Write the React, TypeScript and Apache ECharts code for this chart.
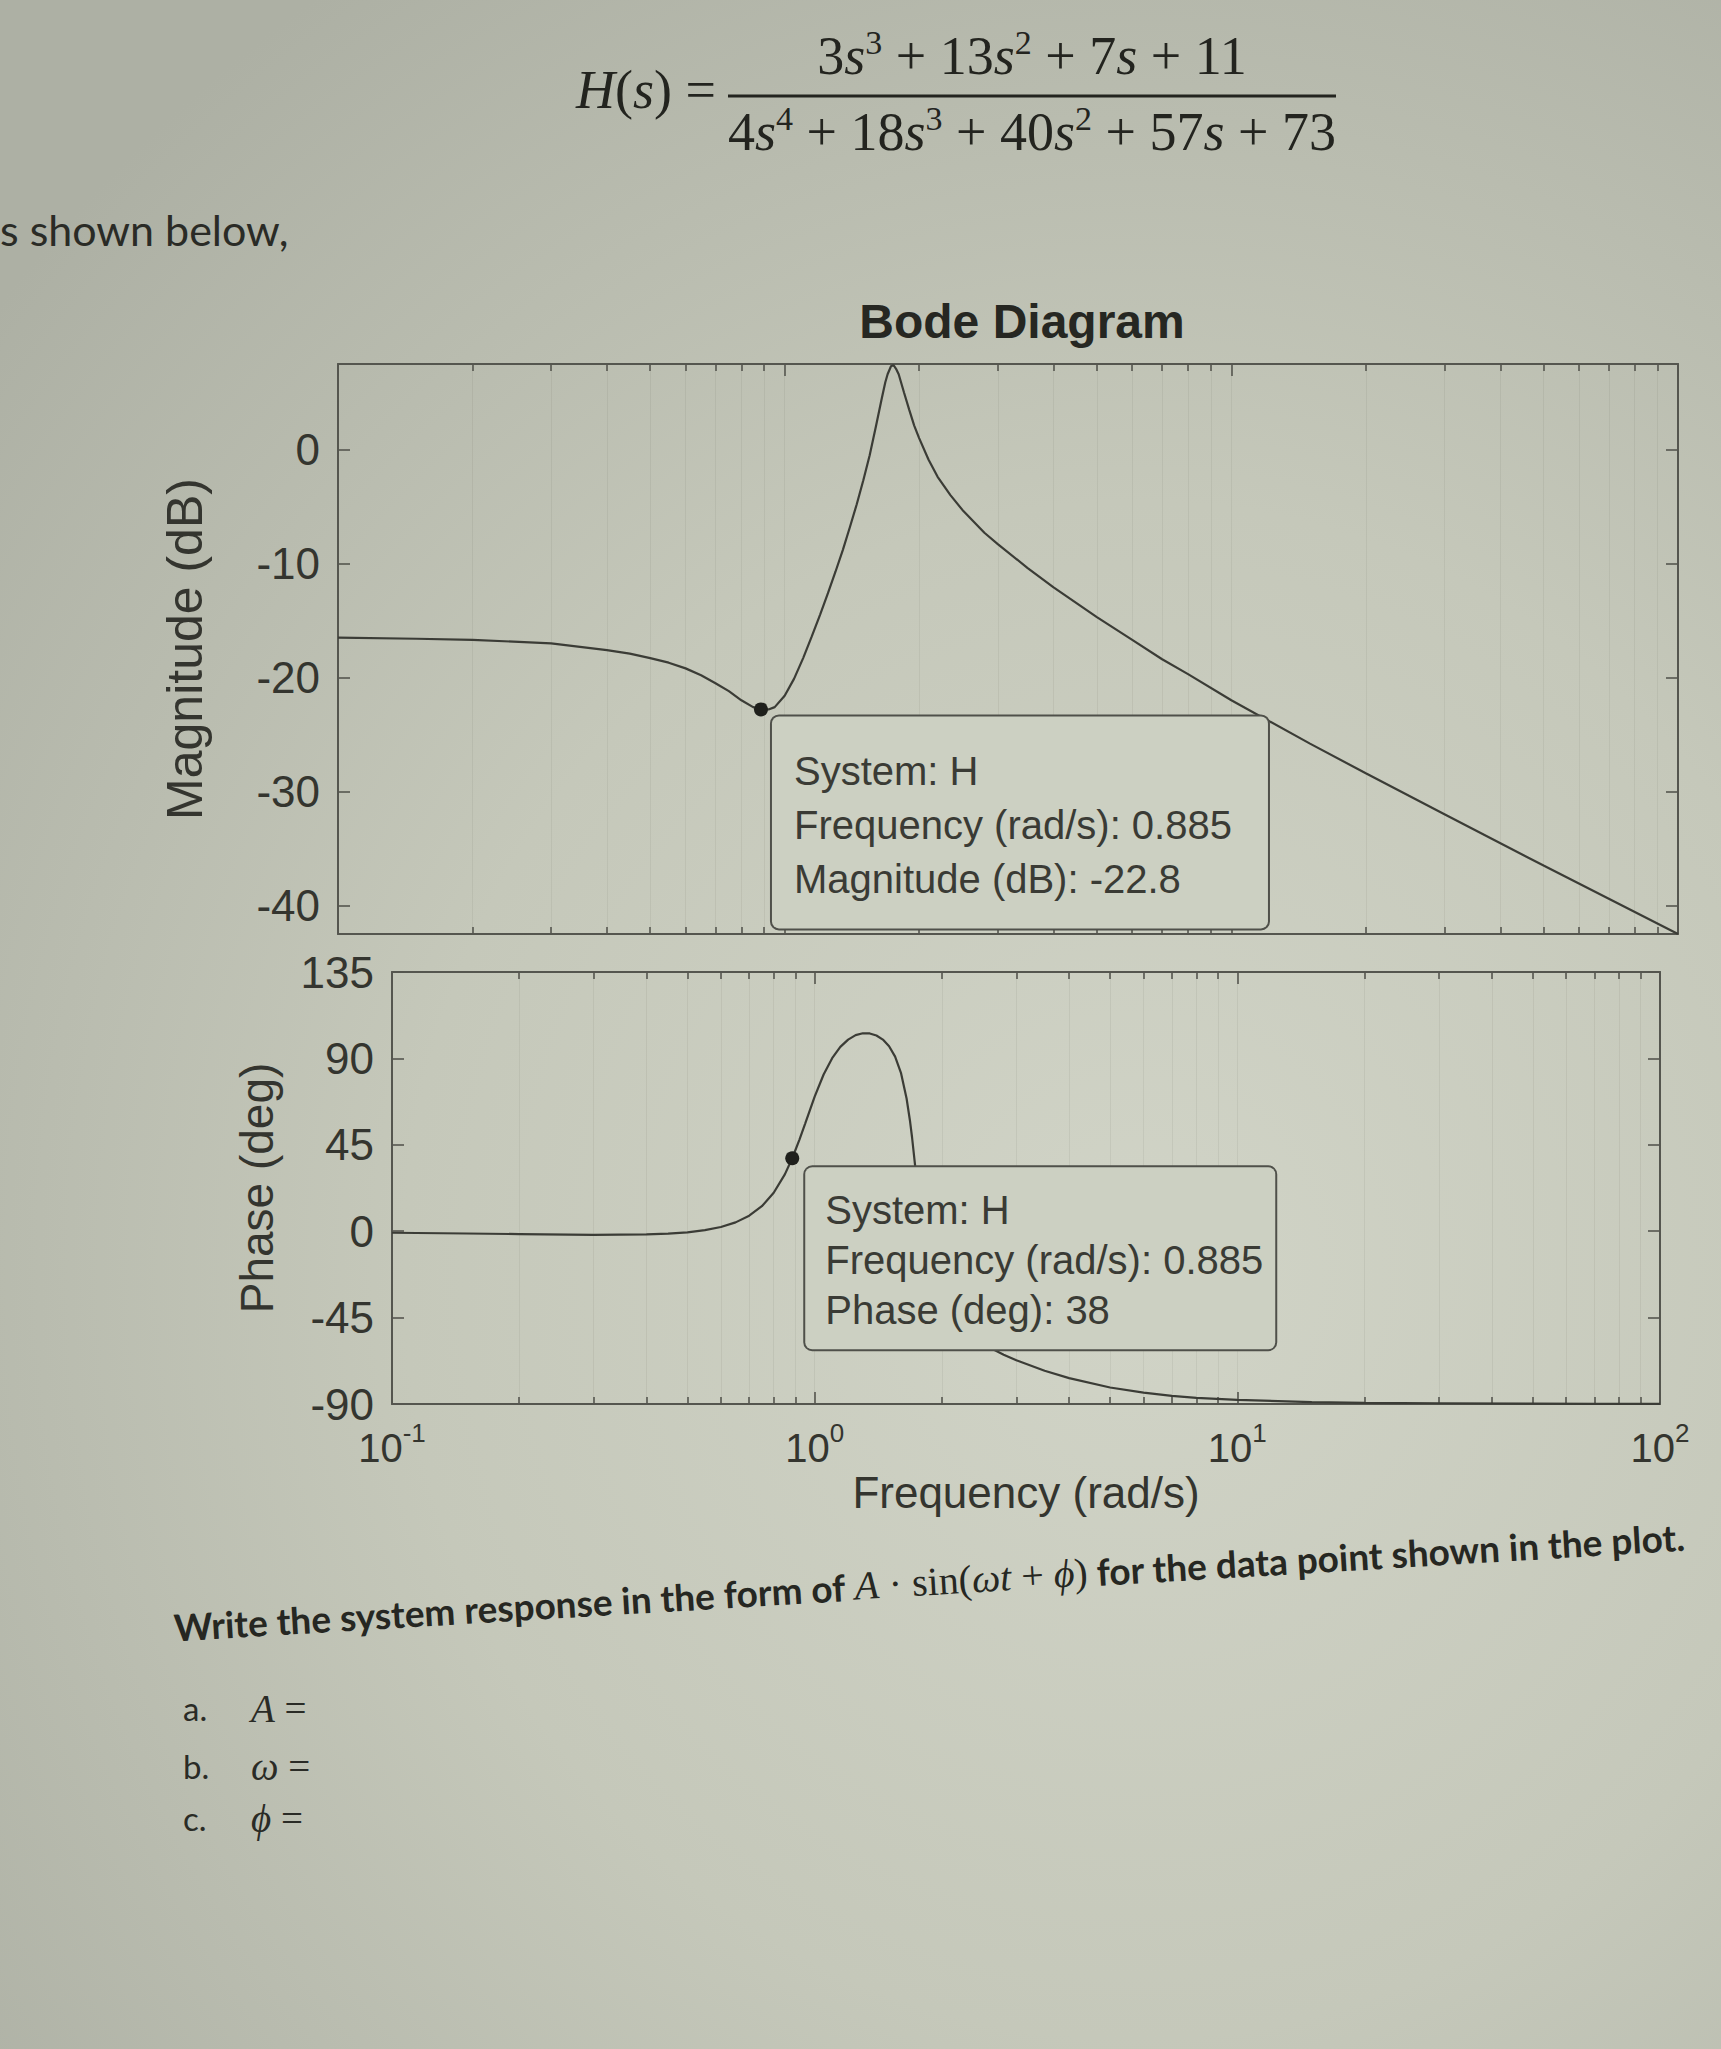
import React, { useEffect, useRef } from "react";
import * as echarts from "echarts";

// ---- data ----
const frequency = [
  0.1, 0.15, 0.2, 0.3, 0.4, 0.45, 0.5, 0.55, 0.6, 0.65,
  0.7, 0.75, 0.8, 0.85, 0.885, 0.92, 0.95, 1.0, 1.05, 1.1,
  1.15, 1.2, 1.25, 1.3, 1.35, 1.4, 1.45, 1.5, 1.55, 1.6,
  1.65, 1.68, 1.7, 1.73, 1.75, 1.76, 1.78, 1.8, 1.85, 1.9,
  1.95, 2.0, 2.1, 2.2, 2.35, 2.5, 2.8, 3, 3.5, 4,
  5, 6, 7, 8, 10, 15, 20, 30, 50, 70,
  100,
];
const magnitudeDb = [
  -16.5, -16.6, -16.7, -17.0, -17.6, -17.9, -18.3, -18.7, -19.2, -19.8,
  -20.5, -21.2, -22.0, -22.6, -22.8, -22.8, -22.6, -21.6, -20.1, -18.3,
  -16.4, -14.5, -12.6, -10.7, -8.8, -6.8, -4.8, -2.7, -0.5, 2.0,
  4.5, 5.9, 6.6, 7.3, 7.4, 7.3, 7.0, 6.6, 5.0, 3.5,
  2.1, 1.0, -0.9, -2.4, -4.0, -5.3, -7.3, -8.3, -10.4, -12.1,
  -14.7, -16.7, -18.4, -19.7, -22.0, -25.8, -28.4, -32.0, -36.5, -39.4,
  -42.5,
];
const phaseDeg = [
  -0.8, -1.2, -1.5, -1.9, -1.7, -1.3, -0.6, 0.6, 2.2, 4.6,
  8.1, 13.0, 20.0, 29.6, 38.0, 47.6, 56.2, 70.1, 81.6, 90.1,
  96.0, 99.8, 102.1, 103.1, 103.0, 101.9, 99.8, 96.3, 90.9, 82.5,
  69.1, 57.8, 48.8, 33.4, 22.9, 17.8, 8.2, -0.4, -16.4, -26.8,
  -33.8, -38.8, -45.6, -50.2, -55.1, -58.8, -64.3, -67.2, -72.7, -76.5,
  -81.4, -84.1, -85.8, -86.8, -87.9, -89.0, -89.4, -89.6, -89.8, -89.9,
  -89.9,
];
const tipFrequency = 0.885;
const tipMagnitude = -22.8;
const tipPhase = 38;
const magTicks = [0, -10, -20, -30, -40];
const magMin = -42.5;
const magMax = 7.5;
const phaseMin = -90;
const phaseMax = 135;
const phaseStep = 45;
const freqMin = 0.1;
const freqMax = 100;

// ---- styles ----
const AX = "#55564f";
const TXT = "#34352f";
const SANS = '"Liberation Sans", Arial, Helvetica, sans-serif';
const SERIF = '"Liberation Serif", "DejaVu Serif", serif';
const BODY = 'Lato, "Open Sans", sans-serif';
const tickStyle = { color: AX, width: 1.6 };
const faint = { color: "rgba(70,72,60,0.075)", width: 1 };

function logAxis(gridIndex: number, position: string, labels: boolean, name: string) {
  return {
    type: "log",
    logBase: 10,
    min: freqMin,
    max: freqMax,
    gridIndex,
    position,
    axisLine: { show: true, onZero: false, lineStyle: { color: AX, width: 2 } },
    axisTick: { show: true, inside: true, length: 12, lineStyle: tickStyle },
    minorTick: { show: true, splitNumber: 9, length: 7, lineStyle: tickStyle },
    splitLine: { show: position === "bottom", lineStyle: faint },
    minorSplitLine: { show: position === "bottom", lineStyle: faint },
    axisLabel: labels
      ? {
          show: true,
          margin: 16,
          showMinLabel: true,
          showMaxLabel: true,
          formatter: (v: number) => `{b|10}{e|${Math.round(Math.log10(v))}}`,
          rich: {
            b: { fontSize: 40, lineHeight: 56, fontFamily: SANS, color: TXT },
            e: { fontSize: 26, lineHeight: 22, verticalAlign: "top", fontFamily: SANS, color: TXT },
          },
        }
      : { show: false },
    name,
    nameLocation: "middle",
    nameGap: 66,
    nameTextStyle: { fontSize: 44, fontFamily: SANS, color: TXT },
  };
}

export default function App() {
  const ref = useRef<HTMLDivElement>(null);
  useEffect(() => {
    document.body.style.margin = "0";
    const chart = echarts.init(ref.current!, null, { renderer: "svg" });

    const magData = frequency.map((f, i) => [f, magnitudeDb[i]]);
    const phaseData = frequency.map((f, i) => [f, phaseDeg[i]]);

    const magAxisCommon = {
      type: "value",
      gridIndex: 0,
      min: magMin,
      max: magMax,
      axisLine: { show: true, onZero: false, lineStyle: { color: AX, width: 2 } },
      axisTick: { show: true, inside: true, length: 12, lineStyle: tickStyle, customValues: magTicks },
      splitLine: { show: false },
    };
    const phaseAxisCommon = {
      type: "value",
      gridIndex: 1,
      min: phaseMin,
      max: phaseMax,
      interval: phaseStep,
      axisLine: { show: true, onZero: false, lineStyle: { color: AX, width: 2 } },
      axisTick: { show: true, inside: true, length: 12, lineStyle: tickStyle },
      splitLine: { show: false },
    };

    const tipLabel = {
      show: true,
      align: "left",
      verticalAlign: "top",
      fontFamily: SANS,
      fontSize: 40,
      color: "#3a3b35",
      backgroundColor: "#ccd0c2",
      borderColor: "#4f504a",
      borderWidth: 2,
      borderRadius: 7,
      opacity: 1,
    };

    const eqRich = {
      n: { fontFamily: SERIF, fontSize: 54, lineHeight: 62, fill: "#23241f" },
      i: { fontFamily: SERIF, fontStyle: "italic", fontSize: 54, lineHeight: 62, fill: "#23241f" },
      p: { fontFamily: SERIF, fontSize: 34, lineHeight: 34, verticalAlign: "top", fill: "#23241f" },
    };
    const bodyRich = {
      t: { fontFamily: BODY, fontWeight: "bold", fontSize: 37, fill: "#262722" },
      m: { fontFamily: SERIF, fontStyle: "italic", fontSize: 40, fill: "#262722" },
      u: { fontFamily: SERIF, fontSize: 40, fill: "#262722" },
    };
    const listRich = {
      l: { fontFamily: BODY, fontSize: 33, fill: "#2a2b26", width: 68 },
      m: { fontFamily: SERIF, fontStyle: "italic", fontSize: 39, fill: "#2a2b26" },
      n: { fontFamily: SERIF, fontSize: 39, fill: "#2a2b26" },
    };
    const txt = (x: number, y: number, text: string, extra: any, rotation = 0) => ({
      type: "text",
      x,
      y,
      rotation,
      style: {
        text,
        align: extra.align || "left",
        textAlign: extra.align || "left",
        verticalAlign: "middle",
        textVerticalAlign: "middle",
        ...extra,
      },
    });

    const option: any = {
      animation: false,
      backgroundColor: "transparent",
      grid: [
        { left: 338, top: 364, width: 1340, height: 570, containLabel: false },
        { left: 392, top: 972, width: 1268, height: 432, containLabel: false },
      ],
      xAxis: [
        logAxis(0, "bottom", false, ""),
        logAxis(1, "bottom", true, "Frequency (rad/s)"),
        logAxis(0, "top", false, ""),
        logAxis(1, "top", false, ""),
      ],
      yAxis: [
        {
          ...magAxisCommon,
          position: "left",
          axisLabel: { show: true, customValues: magTicks, margin: 18, fontSize: 44, fontFamily: SANS, color: TXT },
          name: "Magnitude (dB)",
          nameLocation: "middle",
          nameGap: 128,
          nameTextStyle: { fontSize: 50, fontFamily: SANS, color: TXT },
        },
        { ...magAxisCommon, position: "right", axisLabel: { show: false } },
        {
          ...phaseAxisCommon,
          position: "left",
          axisLabel: { show: true, margin: 18, fontSize: 44, fontFamily: SANS, color: TXT },
          name: "Phase (deg)",
          nameLocation: "middle",
          nameGap: 112,
          nameTextStyle: { fontSize: 46, fontFamily: SANS, color: TXT },
        },
        { ...phaseAxisCommon, position: "right", axisLabel: { show: false } },
      ],
      series: [
        {
          type: "line",
          xAxisIndex: 0,
          yAxisIndex: 0,
          data: magData,
          symbol: "none",
          smooth: false,
          lineStyle: { color: "#3b3c36", width: 2.2 },
          z: 2,
          silent: true,
        },
        {
          type: "line",
          xAxisIndex: 1,
          yAxisIndex: 2,
          data: phaseData,
          symbol: "none",
          smooth: false,
          lineStyle: { color: "#3b3c36", width: 2.2 },
          z: 2,
          silent: true,
        },
        {
          type: "scatter",
          xAxisIndex: 0,
          yAxisIndex: 0,
          data: [[tipFrequency, tipMagnitude]],
          symbolSize: 14,
          itemStyle: { color: "#1f201c", opacity: 1 },
          z: 6,
          silent: true,
          label: {
            ...tipLabel,
            position: [18, 14],
            lineHeight: 54,
            padding: [28, 14, 22, 22],
            width: 460,
            formatter: `System: H\nFrequency (rad/s): ${tipFrequency}\nMagnitude (dB): ${tipMagnitude}`,
          },
        },
        {
          type: "scatter",
          xAxisIndex: 1,
          yAxisIndex: 2,
          data: [[tipFrequency, tipPhase]],
          symbolSize: 14,
          itemStyle: { color: "#1f201c", opacity: 1 },
          z: 6,
          silent: true,
          label: {
            ...tipLabel,
            position: [20, 16],
            lineHeight: 50,
            padding: [18, 18, 14, 20],
            width: 432,
            formatter: `System: H\nFrequency (rad/s): ${tipFrequency}\nPhase (deg): ${tipPhase}`,
          },
        },
      ],
      graphic: [
        txt(716, 90, "{i|H}{n|(}{i|s}{n|) =}", { align: "right", rich: eqRich }),
        txt(1032, 56, "{n|3}{i|s}{p|3}{n| + 13}{i|s}{p|2}{n| + 7}{i|s}{n| + 11}", { align: "center", rich: eqRich }),
        {
          type: "line",
          shape: { x1: 728, y1: 96, x2: 1336, y2: 96 },
          style: { stroke: "#23241f", lineWidth: 3 },
        },
        txt(
          1032,
          132,
          "{n|4}{i|s}{p|4}{n| + 18}{i|s}{p|3}{n| + 40}{i|s}{p|2}{n| + 57}{i|s}{n| + 73}",
          { align: "center", rich: eqRich }
        ),
        txt(0, 229, "s shown below,", { fontFamily: BODY, fontSize: 43, fill: "#2a2b26" }),
        txt(1022, 321, "Bode Diagram", {
          align: "center",
          fontFamily: SANS,
          fontWeight: "bold",
          fontSize: 48,
          fill: "#262722",
        }),
        txt(
          174,
          1627,
          "{t|Write the system response in the form of }{m|A}{u| · sin(}{m|ωt}{u| + }{m|ϕ}{u|)}{t| for the data point shown in the plot.}",
          { rich: bodyRich },
          0.06
        ),
        txt(183, 1708, "{l|a.}{m|A}{n| =}", { rich: listRich }),
        txt(183, 1766, "{l|b.}{m|ω}{n| =}", { rich: listRich }),
        txt(183, 1818, "{l|c.}{m|ϕ}{n| =}", { rich: listRich }),
      ],
    };

    chart.setOption(option);
    return () => chart.dispose();
  }, []);

  return (
    <div
      ref={ref}
      style={{
        width: 1721,
        height: 2049,
        background:
          "radial-gradient(ellipse 85% 75% at 66% 62%, #d1d4c7 0%, #c5c8ba 50%, #adb0a4 100%)",
      }}
    />
  );
}
